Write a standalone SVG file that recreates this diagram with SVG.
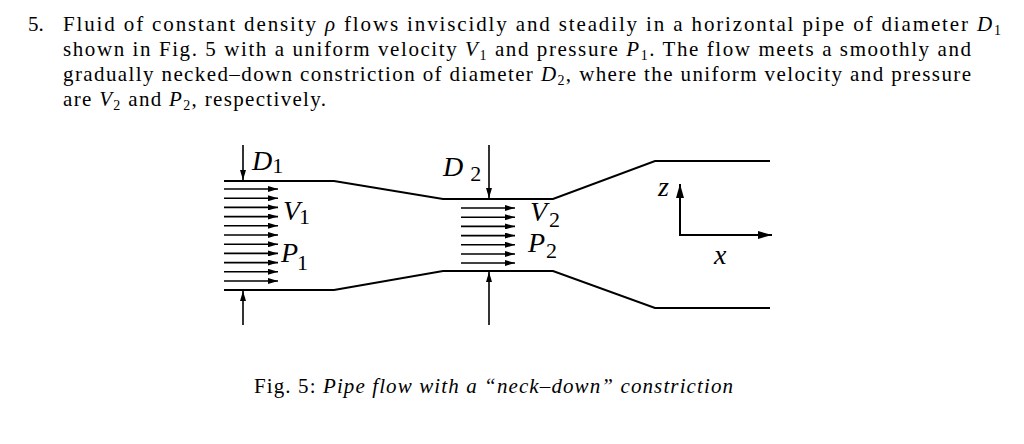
<svg xmlns="http://www.w3.org/2000/svg" width="1024" height="444" viewBox="0 0 1024 444">
<style>
text{font-family:"Liberation Serif",serif;font-size:21px;fill:#000}
.l{font-size:28px;font-style:italic}
.s{font-size:22px;font-style:normal}
.ln{stroke:#000;stroke-width:2;fill:none}
.ar{stroke:#000;stroke-width:1.6;fill:none}
</style>
<defs>
<marker id="a" markerWidth="10" markerHeight="6" refX="10" refY="3" orient="auto" markerUnits="userSpaceOnUse"><path d="M0,0 L10,3 L0,6 Z" fill="#000"/></marker>
<marker id="b" markerWidth="14" markerHeight="8" refX="14" refY="4" orient="auto" markerUnits="userSpaceOnUse"><path d="M0,0 L14,4 L0,8 Z" fill="#000"/></marker>
</defs>
<g id="problem">
<text x="28" y="31">5.</text>
<text x="63" y="31" textLength="938" lengthAdjust="spacing">Fluid of constant density <tspan font-style="italic">ρ</tspan> flows inviscidly and steadily in a horizontal pipe of diameter <tspan font-style="italic">D</tspan><tspan font-size="14" dy="4">1</tspan></text>
<text x="63" y="56" textLength="908" lengthAdjust="spacing">shown in Fig. 5 with a uniform velocity <tspan font-style="italic">V</tspan><tspan font-size="14" dy="4">1</tspan><tspan dy="-4"> and pressure </tspan><tspan font-style="italic">P</tspan><tspan font-size="14" dy="4">1</tspan><tspan dy="-4">.  The flow meets a smoothly and</tspan></text>
<text x="63" y="81" textLength="908" lengthAdjust="spacing">gradually necked–down constriction of diameter <tspan font-style="italic">D</tspan><tspan font-size="14" dy="4">2</tspan><tspan dy="-4">, where the uniform velocity and pressure</tspan></text>
<text x="63" y="106" textLength="263" lengthAdjust="spacing">are <tspan font-style="italic">V</tspan><tspan font-size="14" dy="4">2</tspan><tspan dy="-4"> and </tspan><tspan font-style="italic">P</tspan><tspan font-size="14" dy="4">2</tspan><tspan dy="-4">, respectively.</tspan></text>
</g>
<g id="pipe">
<polyline class="ln" points="224,181 334,181 443,199 553,199 655,161 770,161"/>
<polyline class="ln" points="224,290 334,290 443,271 553,271 655,308 770,308"/>
</g>
<g id="connectors">
<g class="ar" marker-end="url(#a)">
<line x1="224" y1="189" x2="278" y2="189"/><line x1="224" y1="198.2" x2="278" y2="198.2"/><line x1="224" y1="207.4" x2="278" y2="207.4"/><line x1="224" y1="216.6" x2="278" y2="216.6"/><line x1="224" y1="225.8" x2="278" y2="225.8"/><line x1="224" y1="235" x2="278" y2="235"/><line x1="224" y1="244.2" x2="278" y2="244.2"/><line x1="224" y1="253.4" x2="278" y2="253.4"/><line x1="224" y1="262.6" x2="278" y2="262.6"/><line x1="224" y1="271.8" x2="278" y2="271.8"/><line x1="224" y1="281" x2="278" y2="281"/>
<line x1="461" y1="208" x2="515" y2="208"/><line x1="461" y1="217.2" x2="515" y2="217.2"/><line x1="461" y1="226.4" x2="515" y2="226.4"/><line x1="461" y1="235.6" x2="515" y2="235.6"/><line x1="461" y1="244.8" x2="515" y2="244.8"/><line x1="461" y1="254" x2="515" y2="254"/><line x1="461" y1="263" x2="515" y2="263"/>
<line x1="243" y1="145" x2="243" y2="180"/><line x1="243" y1="325" x2="243" y2="291"/>
<line x1="489" y1="145" x2="489" y2="198"/><line x1="489" y1="325" x2="489" y2="272"/>
</g>
<g class="ln" marker-end="url(#b)">
<line x1="680" y1="235" x2="680" y2="184"/><line x1="679" y1="235" x2="772" y2="235"/>
</g>
</g>
<g id="labels">
<text class="l" x="252" y="170">D<tspan class="s" dy="3">1</tspan></text>
<text class="l" x="283" y="220">V<tspan class="s" dx="-1" dy="4">1</tspan></text>
<text class="l" x="281" y="262">P<tspan class="s" dx="-1" dy="8">1</tspan></text>
<text class="l" x="443" y="176">D <tspan class="s" dy="5">2</tspan></text>
<text class="l" x="530" y="221">V</text>
<text class="s" x="549" y="227">2</text>
<text class="l" x="528" y="252">P</text>
<text class="s" x="546" y="258">2</text>
<text class="l" x="658" y="196" font-size="24">z</text>
<text class="l" x="714" y="264" font-size="24">x</text>
</g>
<g id="caption">
<text x="254" y="393" textLength="479" lengthAdjust="spacing">Fig. 5: <tspan font-style="italic">Pipe flow with a “neck–down” constriction</tspan></text>
</g>
</svg>
